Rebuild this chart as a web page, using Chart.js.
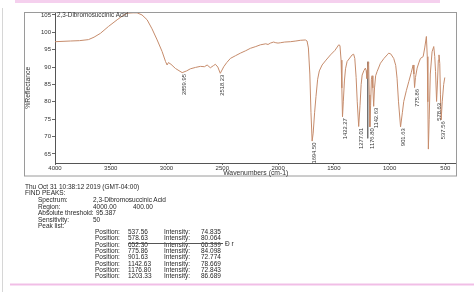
<!DOCTYPE html>
<html><head><meta charset="utf-8">
<script src="https://cdn.jsdelivr.net/npm/chart.js@4.4.1/dist/chart.umd.min.js"></script>
<style>
html,body{margin:0;padding:0;background:#fff;}
#wrap{position:relative;width:474px;height:292px;overflow:hidden;font-family:'Liberation Sans',Arial,sans-serif;color:#262626;}
canvas{position:absolute;left:0;top:0;}
.t{position:absolute;font-size:6.5px;line-height:7px;white-space:nowrap;}
</style></head><body>
<div id="wrap"><canvas id="c" width="474" height="292"></canvas></div>
<script>
// ---- data ----
const chartTitle = '2,3-Dibromosuccinic Acid';
const xTitle = 'Wavenumbers (cm-1)';
const yTitle = '%Reflectance';
const xTickValues = [4000, 3500, 3000, 2500, 2000, 1500, 1000, 500];
const yTickValues = [65, 70, 75, 80, 85, 90, 95, 100, 105];

const wavenumbers = [
  4000,3862,3780,3700,3650,3593,3520,3443,3400,3353,
  3300,3264,3220,3174,3130,3084,3040,3009,2995,2983,
  2960,2920,2860,2820,2786,2740,2696,2660,2636,2607,
  2580,2562,2540,2518,2487,2460,2427,2380,2338,2290,
  2248,2200,2158,2110,2090,2068,2040,2020,2000,1979,
  1940,1889,1840,1800,1755,1740,1728,1715,1705,1694.5,
  1685,1672,1660,1645,1630,1605,1570,1530,1490,1456,
  1445,1435,1428,1422.3,1415,1405,1395,1381,1336,1322,
  1312,1300,1290,1277,1265,1255,1246,1230,1217,1210,
  1203.3,1198,1193,1188,1182,1176.8,1170,1163,1157,1150,
  1142.6,1135,1125,1112,1082,1050,1022,1008,990,963,
  945,933,920,901.6,885,873,850,828,805,789,
  782,775.9,768,753,738,723,699,685,670,662,
  657,652.3,645,635,619,604,595,588,578.6,570,
  563,557,550,544,537.6,528,515,505
];
const reflectance = [
  97.3,97.5,97.6,97.9,98.6,99.7,101.7,103.6,104.6,105.5,
  105.6,105.6,105.0,103.6,101.0,97.8,94.5,91.6,90.6,91.3,
  90.8,89.6,88.4,88.9,89.5,89.9,90.2,90.1,90.6,89.8,
  90.4,90.8,90.0,88.2,90.1,91.3,92.5,93.3,94.0,94.7,
  95.4,95.9,96.4,96.7,96.5,96.9,97.2,97.0,96.9,97.0,
  97.2,97.3,97.5,97.7,97.8,97.5,95.5,88.0,77.0,68.7,
  71.0,77.0,81.5,86.5,88.9,90.6,92.0,93.5,94.8,96.4,
  96.2,92.0,84.0,75.7,80.0,86.0,89.5,91.6,93.5,93.7,
  92.5,87.0,80.0,72.9,79.0,85.0,87.7,89.0,89.7,89.0,
  86.7,89.5,91.5,91.0,82.0,72.8,79.0,86.5,87.5,84.0,
  78.7,84.0,87.5,88.7,91.1,92.5,93.5,94.0,93.8,92.5,
  90.5,86.8,80.0,72.8,77.0,80.1,83.2,85.8,88.5,90.6,
  88.0,84.1,87.0,89.7,91.2,92.5,93.0,95.5,98.8,93.0,
  80.0,66.4,75.0,88.0,94.4,95.9,93.0,88.7,80.1,86.0,
  92.0,93.5,91.0,82.0,74.8,80.0,85.0,87.0
];
// pen mark near 1196 cm-1
const markWavenumber = [1196, 1196];
const markReflectance = [91.5, 69.5];

const peakLabelPos = [2859.95, 2518.23, 1694.50, 1422.27, 1277.01, 1176.80, 1142.63, 901.63, 775.86, 578.63, 537.56];
const peakLabelVal = [88.4, 88.2, 68.7, 75.7, 72.9, 72.8, 78.7, 72.8, 84.1, 80.1, 74.8];

const reportLines = ['Thu Oct 31 10:38:12 2019 (GMT-04:00)', 'FIND PEAKS:'];
const reportFields = [['Spectrum:', '2,3-Dibromosuccinic Acid'], ['Region:', '4000.00', '400.00'], ['Absolute threshold:', '95.387'], ['Sensitivity:', '50'], ['Peak list:']];
const peakListPositions = ['537.56','578.63','652.30','775.86','901.63','1142.63','1176.80','1203.33'];
const peakListIntensities = ['74.835','80.064','66.399','84.098','72.774','78.669','72.843','86.689'];

// ---- chart ----
const FONT = '"Liberation Sans", Arial, sans-serif';
const deco = {
  id: 'deco',
  afterDraw(chart) {
    const ctx = chart.ctx, a = chart.chartArea, xs = chart.scales.x, ys = chart.scales.y;
    ctx.save();
    // scan artifacts
    ctx.strokeStyle = 'rgba(225,120,205,0.35)'; ctx.lineWidth = 3;
    ctx.beginPath(); ctx.moveTo(15, 1.5); ctx.lineTo(440, 1.5); ctx.stroke();
    ctx.strokeStyle = 'rgba(225,110,200,0.45)'; ctx.lineWidth = 2;
    ctx.beginPath(); ctx.moveTo(10, 284.5); ctx.lineTo(474, 284.5); ctx.stroke();
    ctx.strokeStyle = '#d6d6d6'; ctx.lineWidth = 1;
    ctx.beginPath(); ctx.moveTo(2.5, 8); ctx.lineTo(2.5, 292); ctx.stroke();
    // frame
    ctx.strokeStyle = '#9a9a9a'; ctx.lineWidth = 1;
    ctx.strokeRect(24.5, 12.5, 432, 163.5);
    // title
    ctx.fillStyle = '#333'; ctx.font = '6.3px ' + FONT;
    ctx.textBaseline = 'middle'; ctx.textAlign = 'left';
    ctx.fillText(chartTitle, a.left + 2, ys.getPixelForValue(105));
    // peak labels
    ctx.font = '5.8px ' + FONT;
    peakLabelPos.forEach((p, i) => {
      const x = xs.getPixelForValue(p) + 2.5, y = ys.getPixelForValue(peakLabelVal[i]) + 1.5;
      ctx.save(); ctx.translate(x, y); ctx.rotate(-Math.PI / 2);
      ctx.textAlign = 'right'; ctx.textBaseline = 'middle';
      ctx.fillText(p.toFixed(2), 0, 0); ctx.restore();
    });
    // axis titles
    ctx.font = '6.8px ' + FONT;
    ctx.save(); ctx.translate(28.5, (a.top + a.bottom) / 2); ctx.rotate(-Math.PI / 2);
    ctx.textAlign = 'center'; ctx.textBaseline = 'middle'; ctx.fillText(yTitle, 0, 0); ctx.restore();
    ctx.textAlign = 'center'; ctx.textBaseline = 'middle';
    ctx.fillText(xTitle, (a.left + a.right) / 2, 173.5);
    ctx.restore();
  }
};

new Chart(document.getElementById('c'), {
  type: 'line',
  data: {
    datasets: [
      {
        data: wavenumbers.map((w, i) => ({ x: w, y: reflectance[i] })),
        borderColor: '#c68c6c', borderWidth: 1, pointRadius: 0, tension: 0, fill: false
      },
      {
        data: markWavenumber.map((w, i) => ({ x: w, y: markReflectance[i] })),
        borderColor: '#6a6a6a', borderWidth: 0.8, pointRadius: 0, tension: 0, fill: false
      }
    ]
  },
  options: {
    responsive: false, animation: false, devicePixelRatio: 1,
    layout: { padding: { left: 24, top: 12.5, right: 17.5, bottom: 116 } },
    plugins: { legend: { display: false }, tooltip: { enabled: false }, title: { display: false } },
    scales: {
      x: {
        type: 'linear', reverse: true, min: 400, max: 4000,
        afterBuildTicks: s => { s.ticks = xTickValues.map(v => ({ value: v })); },
        afterFit: s => { s.height = 13; },
        grid: { display: true, drawOnChartArea: false, tickLength: 2, color: '#666' },
        border: { display: true, color: '#555', width: 1 },
        ticks: { font: { size: 6, family: FONT }, color: '#333', padding: 0, maxRotation: 0, autoSkip: false,
                 callback: v => String(v) }
      },
      y: {
        type: 'linear', min: 62.4, max: 105.7,
        afterBuildTicks: s => { s.ticks = yTickValues.map(v => ({ value: v })); },
        afterFit: s => { s.width = 31; },
        grid: { display: true, drawOnChartArea: false, tickLength: 3, color: '#666' },
        border: { display: true, color: '#555', width: 1 },
        ticks: { font: { size: 6, family: FONT }, color: '#333', padding: 1, callback: v => String(v) }
      }
    }
  },
  plugins: [deco]
});

// ---- report text block ----
const wrap = document.getElementById('wrap');
function addText(txt, x, y) {
  const d = document.createElement('div');
  d.className = 't'; d.textContent = txt;
  d.style.left = x + 'px'; d.style.top = (y - 3.5) + 'px';
  wrap.appendChild(d); return d;
}
addText(reportLines[0], 25, 186);
addText(reportLines[1], 25, 192.5);
const fieldCols = [38, 93, 133];
reportFields.forEach((f, i) => {
  const y = 199.5 + i * 6.5;
  f.forEach((s, j) => {
    let x = fieldCols[j];
    if (i === 2 && j === 1) x = 96;
    addText(s, x, y);
  });
});
peakListPositions.forEach((p, i) => {
  const y = 231.5 + i * 6.3;
  addText('Position:', 95, y);
  addText(p, 128, y);
  addText('Intensity:', 164, y);
  addText(peakListIntensities[i], 201, y);
});
// strike mark over third row
const sy = 231.5 + 2 * 6.3 - 1.5;
const line = document.createElement('div');
line.style.cssText = 'position:absolute;left:128px;width:95px;height:0;border-top:1px solid #555;top:' + sy + 'px';
wrap.appendChild(line);
addText('Ð r', 225, sy + 0.5);
</script>
</body></html>
